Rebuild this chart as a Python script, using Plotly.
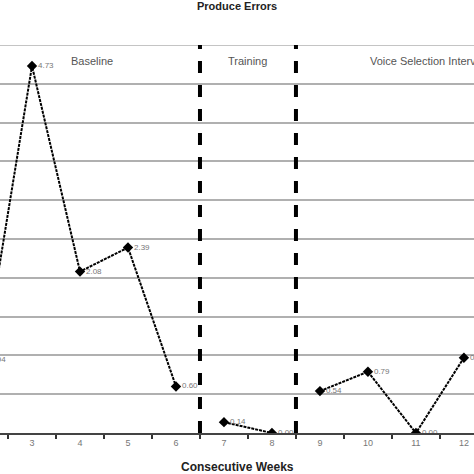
import plotly.graph_objects as go

weeks = [2, 3, 4, 5, 6, 7, 8, 9, 10, 11, 12]
errors = [0.94, 4.73, 2.08, 2.39, 0.60, 0.14, 0.00, 0.54, 0.79, 0.00, 0.97]
labels = ["0.94", "4.73", "2.08", "2.39", "0.60", "0.14", "0.00", "0.54", "0.79", "0.00", "0.97"]
phase_names = ["Baseline", "Training", "Voice Selection Intervention"]
phase_breaks = [6.5, 8.5]
tick_weeks = [3, 4, 5, 6, 7, 8, 9, 10, 11, 12]

fig = go.Figure()

# top border of the plot area (grid line at the range end is not drawn by plotly)
fig.add_shape(
    type="line", xref="paper", yref="y", x0=0, x1=1, y0=5, y1=5,
    line=dict(color="#b0b0b0", width=1.5),
)

# phase change lines
for xb in phase_breaks:
    fig.add_shape(
        type="line", xref="x", yref="paper", x0=xb, x1=xb, y0=0, y1=1,
        line=dict(color="black", width=4, dash="dash"),
    )

# one series per phase so the line breaks between phases
phases = [(2, 6), (7, 8), (9, 12)]
for lo, hi in phases:
    idx = [i for i, w in enumerate(weeks) if lo <= w <= hi]
    fig.add_trace(
        go.Scatter(
            x=[weeks[i] for i in idx],
            y=[errors[i] for i in idx],
            text=[labels[i] for i in idx],
            mode="lines+markers+text",
            textposition="middle right",
            textfont=dict(size=8, color="#777777"),
            line=dict(color="black", width=2, dash="3px,1px"),
            marker=dict(symbol="diamond", size=8, color="black"),
            showlegend=False,
        )
    )

# phase labels
fig.add_annotation(x=4.25, y=4.8, text=phase_names[0], showarrow=False,
                   font=dict(size=11, color="#555555"))
fig.add_annotation(x=7.5, y=4.8, text=phase_names[1], showarrow=False,
                   font=dict(size=11, color="#555555"))
fig.add_annotation(x=10.0, y=4.8, text=phase_names[2], showarrow=False,
                   xanchor="left", font=dict(size=11, color="#555555"))

# title and axis title, partly cut off like the source picture
fig.add_annotation(xref="paper", yref="paper", x=0.5, y=1.1, yanchor="middle",
                   text="<b>Produce Errors</b>", showarrow=False,
                   font=dict(size=11, color="#222222"))
fig.add_annotation(xref="paper", yref="paper", x=0.5, y=-0.088, yanchor="middle",
                   text="<b>Consecutive Weeks</b>", showarrow=False,
                   font=dict(size=12, color="#222222"))

fig.update_xaxes(
    range=[2.333, 12.21],
    tickvals=tick_weeks,
    ticktext=[str(w) for w in tick_weeks],
    ticks="",
    tickfont=dict(size=9, color="#777777"),
    showgrid=False,
    showline=True,
    linecolor="#444444",
    linewidth=2,
    zeroline=False,
    minor=dict(tickvals=[w + 0.5 for w in [2] + tick_weeks], ticks="outside",
               ticklen=4, tickcolor="#333333", tickwidth=2),
)
fig.update_yaxes(
    range=[0, 5],
    dtick=0.5,
    showticklabels=False,
    showgrid=True,
    gridcolor="#b0b0b0",
    gridwidth=1.5,
    zeroline=False,
    showline=False,
)

fig.update_layout(
    width=474,
    height=474,
    margin=dict(l=0, r=0, t=45, b=41),
    plot_bgcolor="white",
    paper_bgcolor="white",
    font=dict(family="Liberation Sans, Arial, sans-serif"),
)

fig.write_html(
    "out.html",
    config={"displayModeBar": False},
    post_script="document.body.style.margin='0';",
)
